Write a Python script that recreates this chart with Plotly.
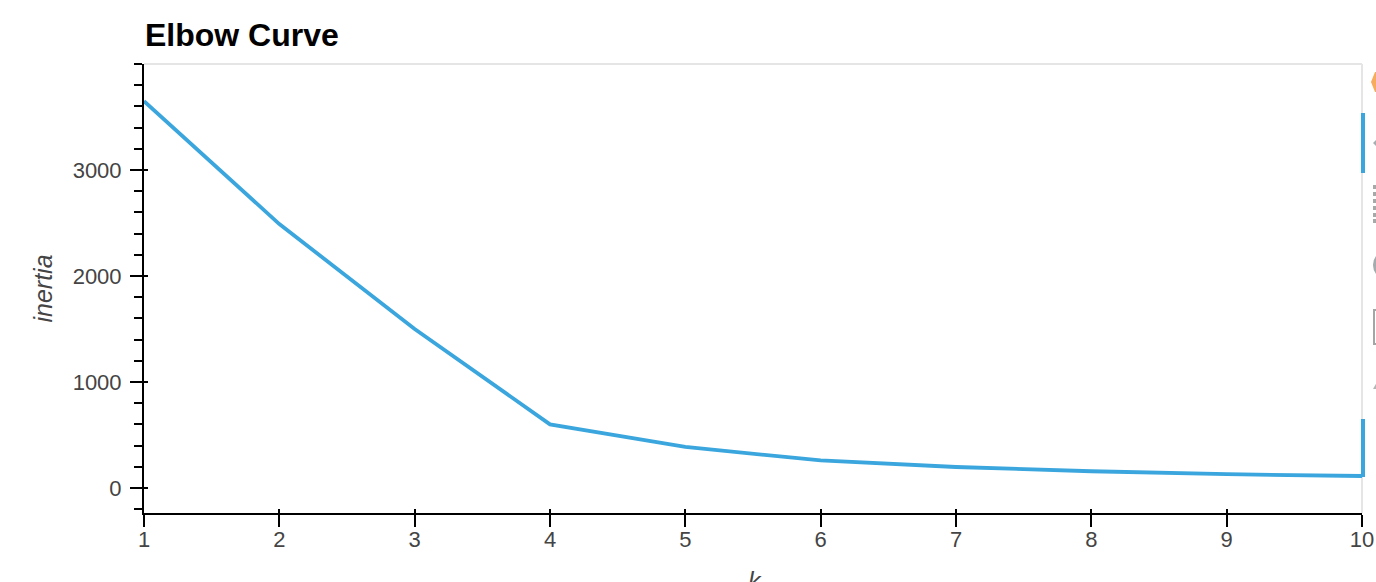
import plotly.graph_objects as go

k_values = [1, 2, 3, 4, 5, 6, 7, 8, 9, 10]
inertia_values = [3650, 2490, 1500, 600, 387, 260, 198, 158, 130, 113]
y_ticks = [0, 1000, 2000, 3000]
title_text = "Elbow Curve"
x_label = "k"
y_label = "inertia"

W, H = 1376, 582
L, R, T, B = 144, 1362, 64, 513
LINE = "#3aa6dd"
FONT = "Liberation Sans, Arial, sans-serif"
X_RANGE = [1, 10]
Y_RANGE = [-236, 4000]


def px(x):
    return (x - L) / (R - L)


def py(y):
    return (B - y) / (B - T)


def rect(x0, y0, x1, y1, fill, line=None):
    return dict(type="rect", xref="paper", yref="paper", x0=px(x0), x1=px(x1), y0=py(y0), y1=py(y1),
                fillcolor=fill, line=dict(width=2 if line else 0, color=line or fill), layer="above")


def seg(x0, y0, x1, y1, color, width=1.5):
    return dict(type="line", xref="paper", yref="paper", x0=px(x0), x1=px(x1), y0=py(y0), y1=py(y1),
                line=dict(color=color, width=width), layer="below")


def ellipse(x0, y0, x1, y1, fill):
    return dict(type="circle", xref="paper", yref="paper", x0=px(x0), x1=px(x1), y0=py(y0), y1=py(y1),
                fillcolor=fill, line=dict(width=0), layer="above")


def poly(points, fill):
    path = "M" + " L".join(f"{px(x):.6f},{py(y):.6f}" for x, y in points) + " Z"
    return dict(type="path", xref="paper", yref="paper", path=path, fillcolor=fill,
                line=dict(width=0), layer="above")


shapes = [
    seg(L, T, R, T, "#e5e5e5", 2),
    seg(R, T, R, B, "#e5e5e5", 2),
    rect(1361, 113, 1365, 173, LINE),
    rect(1361, 419, 1365, 477, LINE),
    poly([(1371, 82), (1375, 72), (1378, 72), (1378, 92), (1375, 92)], "#f6ab5e"),
    poly([(1373, 143), (1377, 139), (1377, 147)], "#a8adb0"),
    ellipse(1373, 252, 1395, 278, "#a5aaad"),
    rect(1374, 310, 1380, 344, "white", "#a5a5a5"),
    poly([(1373, 389), (1377, 382), (1377, 389)], "#b5b5b5"),
]
for top in [185, 192, 199, 206, 213, 219]:
    shapes.append(rect(1373, top, 1376, top + 4, "#a8a8a8"))

fig = go.Figure()
fig.add_trace(go.Scatter(x=k_values, y=inertia_values, mode="lines", line=dict(color=LINE, width=3.8),
                         showlegend=False, hoverinfo="skip"))
fig.add_trace(go.Scatter(x=k_values, y=inertia_values, mode="lines", xaxis="x2", yaxis="y2",
                         line=dict(color="rgba(0,0,0,0)", width=0), showlegend=False, hoverinfo="skip"))

fig.update_layout(
    template="none",
    width=W, height=H, autosize=False, paper_bgcolor="white", plot_bgcolor="white",
    margin=dict(l=L, r=W - R, t=T, b=H - B, pad=0),
    font=dict(family=FONT, size=22, color="#444444"),
    title=dict(text=f"<b>{title_text}</b>", x=145 / W, xanchor="left", y=1 - 35 / H, yanchor="middle",
               font=dict(size=32, color="#000000", family=FONT)),
    shapes=shapes,
    annotations=[dict(text=f"<i>{x_label}</i>", xref="paper", yref="paper", x=px(755), y=py(581),
                      xanchor="center", yanchor="middle", showarrow=False,
                      font=dict(size=25, color="#444444", family=FONT))],
    xaxis=dict(range=X_RANGE, tickmode="array", tickvals=k_values, ticks="outside", ticklen=12, tickwidth=2,
               tickcolor="black", showline=True, linecolor="black", linewidth=2, showgrid=False, zeroline=False,
               automargin=False, tickfont=dict(size=22, color="#444444"), ticklabelstandoff=-6),
    yaxis=dict(range=Y_RANGE, tickmode="array", tickvals=y_ticks, ticks="outside", ticklen=12, tickwidth=2,
               tickcolor="black", showline=True, linecolor="black", linewidth=2, showgrid=False, zeroline=False,
               automargin=False, tickfont=dict(size=22, color="#444444"), ticklabelstandoff=4,
               minor=dict(dtick=200, tick0=0, ticks="outside", ticklen=8, tickwidth=2, tickcolor="black"),
               title=dict(text=f"<i>{y_label}</i>", font=dict(size=25, color="#444444"), standoff=13)),
    xaxis2=dict(range=X_RANGE, overlaying="x", anchor="y", side="bottom", tickvals=k_values, ticks="inside",
                ticklen=4, tickwidth=2, tickcolor="black", showticklabels=False, showgrid=False, zeroline=False,
                automargin=False),
    yaxis2=dict(range=Y_RANGE, overlaying="y", anchor="x", side="left", tickvals=y_ticks, ticks="inside",
                ticklen=4, tickwidth=2, tickcolor="black", showticklabels=False, showgrid=False, zeroline=False,
                automargin=False),
)

fig.write_html("out.html", config=dict(displayModeBar=False),
               post_script="document.body.style.margin='0';document.body.style.overflow='hidden';")
